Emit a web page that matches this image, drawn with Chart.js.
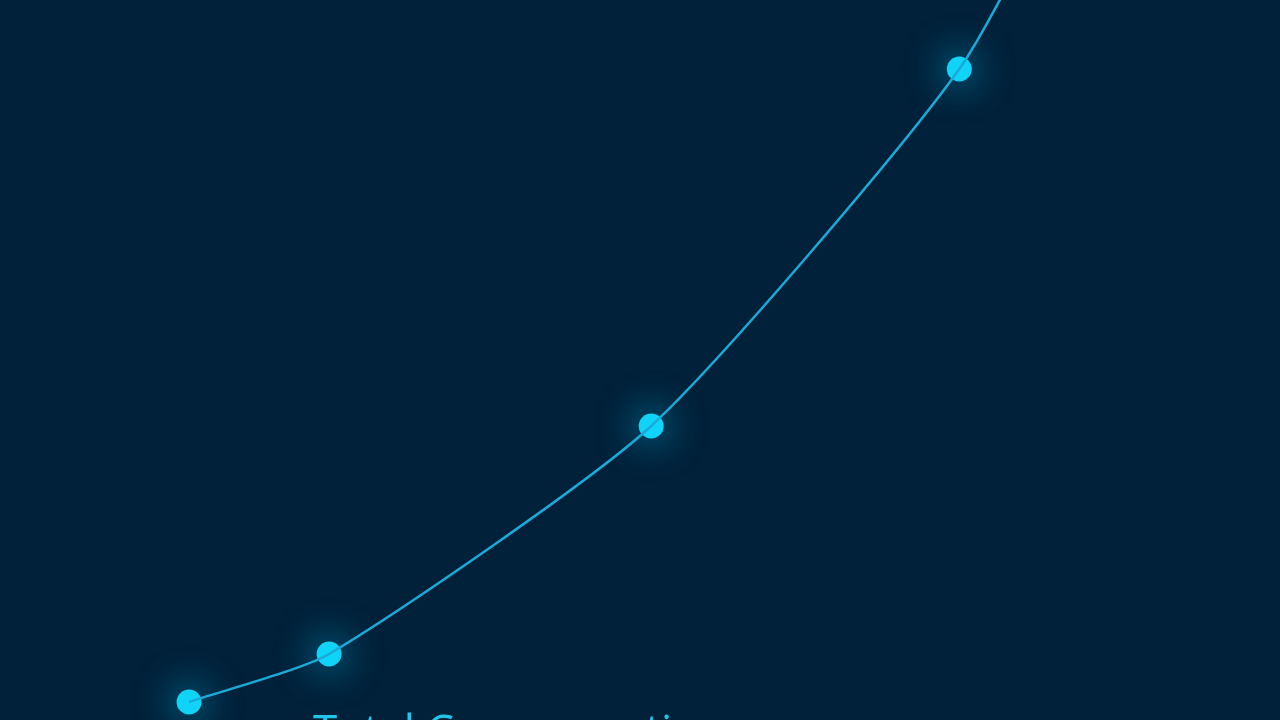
<!DOCTYPE html>
<html>
<head>
<meta charset="utf-8">
<script src="https://cdn.jsdelivr.net/npm/chart.js@4/dist/chart.umd.min.js"></script>
<style>
  html, body { margin: 0; padding: 0; background: #012039; overflow: hidden; }
  #wrap { width: 1280px; height: 720px; position: relative; }
</style>
</head>
<body>
<div id="wrap"><canvas id="compChart"></canvas></div>
<script>
// career stage (x) vs total compensation in $k (y)
const stages = [1, 2, 4.3, 6.5, 7.6];
const compensation = [56, 72, 148, 267, 365];
const caption = 'Total Compensation';

const points = stages.map((s, i) => ({ x: s, y: compensation[i] }));

// soft glow around the markers only
const glowPlugin = {
    id: 'glow',
    beforeDatasetDraw(chart, args) {
        if (args.index !== 1) return;
        const ctx = chart.ctx;
        ctx.save();
        ctx.shadowColor = 'rgba(0, 210, 255, 0.95)';
        ctx.shadowBlur = 40;
    },
    afterDatasetDraw(chart, args) {
        if (args.index !== 1) return;
        chart.ctx.restore();
    }
};

// caption sitting at the bottom edge, partly cut off
const captionPlugin = {
    id: 'caption',
    afterDraw(chart) {
        const ctx = chart.ctx;
        ctx.save();
        ctx.font = '44px "Open Sans", sans-serif';
        ctx.fillStyle = '#1ec6ea';
        ctx.textBaseline = 'alphabetic';
        ctx.textAlign = 'left';
        ctx.fillText(caption, 313, 746);
        ctx.restore();
    }
};

document.addEventListener('DOMContentLoaded', () => {
    const ctx = document.getElementById('compChart').getContext('2d');
    new Chart(ctx, {
        type: 'line',
        data: {
            datasets: [{
                label: 'Total Compensation',
                data: points,
                borderColor: '#1aaad8',
                borderWidth: 2.5,
                pointRadius: 0,
                tension: 0.2,
                fill: false
            }, {
                label: 'markers',
                data: points,
                showLine: false,
                pointRadius: 12.5,
                pointBorderWidth: 0,
                pointBackgroundColor: '#0fd4f7',
                pointBorderColor: '#0fd4f7',
                clip: false
            }]
        },
        options: {
            responsive: true,
            maintainAspectRatio: false,
            animation: false,
            layout: { padding: 0, autoPadding: false },
            plugins: {
                legend: { display: false },
                tooltip: { enabled: false }
            },
            scales: {
                x: { type: 'linear', display: false, min: -0.35, max: 8.79 },
                y: { type: 'linear', display: false, min: 50, max: 290 }
            }
        },
        plugins: [glowPlugin, captionPlugin]
    });
});
</script>
</body>
</html>
